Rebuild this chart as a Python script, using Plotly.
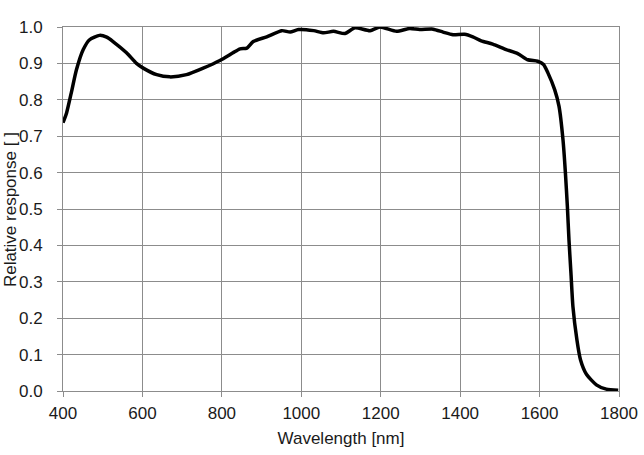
import plotly.graph_objects as go

# spectral response
wavelength_nm = [
    400, 409, 421, 434, 451, 467, 492, 510, 526, 560, 585, 602, 636, 669,
    711, 753, 795, 828, 846, 863, 879, 913, 951, 972, 993, 1031, 1056, 1081,
    1110, 1135, 1173, 1198, 1240, 1273, 1298, 1332, 1357, 1382, 1411, 1432,
    1453, 1482, 1516, 1545, 1570, 1595, 1610, 1621, 1638, 1649, 1659, 1665,
    1670, 1674, 1679, 1684, 1694, 1703, 1718, 1743, 1768, 1798,
]
relative_response = [
    0.737, 0.764, 0.820, 0.883, 0.938, 0.965, 0.977, 0.972, 0.960, 0.929,
    0.900, 0.887, 0.869, 0.863, 0.869, 0.887, 0.908, 0.929, 0.940, 0.942,
    0.960, 0.973, 0.990, 0.986, 0.993, 0.990, 0.984, 0.988, 0.982, 0.998,
    0.990, 1.000, 0.988, 0.996, 0.993, 0.994, 0.986, 0.979, 0.980, 0.973,
    0.962, 0.953, 0.938, 0.927, 0.910, 0.906, 0.897, 0.874, 0.828, 0.782,
    0.690, 0.600, 0.507, 0.416, 0.324, 0.232, 0.141, 0.086, 0.046, 0.017,
    0.005, 0.002,
]

x_ticks = [400, 600, 800, 1000, 1200, 1400, 1600, 1800]
y_ticks = [round(i * 0.1, 1) for i in range(11)]
y_tick_labels = [f"{v:.1f}" for v in y_ticks]

FONT = "Liberation Sans, Arial, sans-serif"
FONT_SIZE = 17
GRID = "#8c8c8c"
TEXT = "#1a1a1a"

fig = go.Figure(
    go.Scatter(
        x=wavelength_nm,
        y=relative_response,
        mode="lines",
        line=dict(color="black", width=3.5, shape="spline", smoothing=0.6),
        showlegend=False,
    )
)

axis_common = dict(
    showgrid=True,
    gridcolor=GRID,
    gridwidth=1,
    showline=True,
    linecolor=GRID,
    linewidth=1,
    mirror=True,
    ticks="outside",
    ticklen=5,
    tickcolor=GRID,
    tickfont=dict(family=FONT, size=FONT_SIZE, color=TEXT),
    zeroline=False,
    automargin=False,
    fixedrange=True,
)

fig.update_xaxes(
    range=[400, 1800],
    tickvals=x_ticks,
    ticklabelstandoff=2,
    title=dict(text="Wavelength [nm]", font=dict(family=FONT, size=FONT_SIZE, color=TEXT), standoff=9),
    **axis_common,
)
fig.update_yaxes(
    range=[0, 1.0],
    tickvals=y_ticks,
    ticktext=y_tick_labels,
    ticklabelstandoff=11,
    **axis_common,
)

# y title hugs the left edge, as in the reference
fig.add_annotation(
    text="Relative response [ ]",
    textangle=-90,
    xref="paper", yref="paper",
    x=(10 - 63) / 556, y=0.497,
    xanchor="center", yanchor="middle",
    showarrow=False,
    font=dict(family=FONT, size=FONT_SIZE, color=TEXT),
)

fig.update_layout(
    width=644,
    height=455,
    margin=dict(l=63, r=25, t=27, b=64),
    paper_bgcolor="white",
    plot_bgcolor="white",
)

# drop the default page margin so the figure fills the window
fig.write_html(
    "out.html",
    config={"displayModeBar": False, "staticPlot": True},
    post_script="document.body.style.margin = '0';",
)
